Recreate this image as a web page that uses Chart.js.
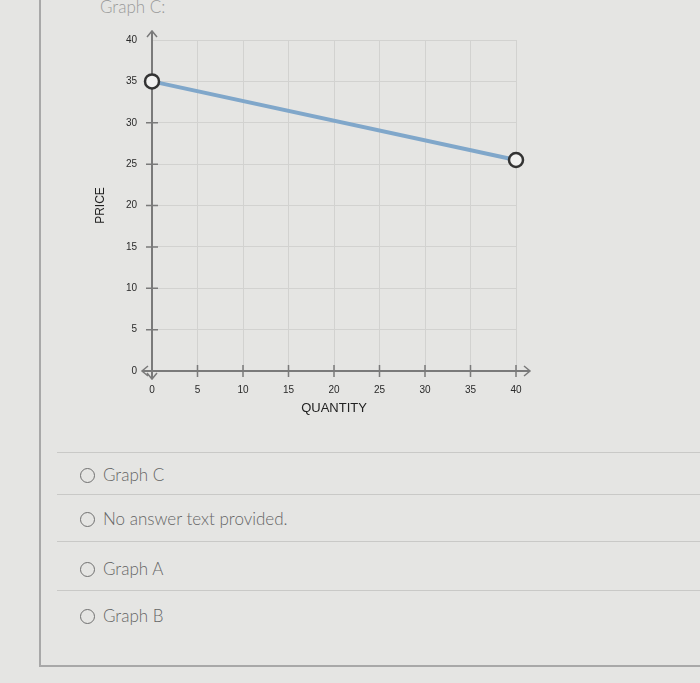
<!DOCTYPE html>
<html>
<head>
<meta charset="utf-8">
<script src="https://cdn.jsdelivr.net/npm/chart.js@4.4.1/dist/chart.umd.min.js"></script>
<style>
  body { margin: 0; background: #e5e5e3; font-family: Lato, sans-serif; }
  #page { position: relative; width: 700px; height: 683px; overflow: hidden; }
  #frame { position: absolute; left: 39px; top: -2px; width: 700px; height: 667px;
           border-left: 2px solid #a8a8a8; border-bottom: 2px solid #a8a8a8; }
  #title { position: absolute; left: 100px; top: -4px; font-size: 17px; color: #9a9a9a; font-weight: 300; }
  #chartBox { position: absolute; left: 0; top: 0; width: 700px; height: 430px; }
  .rule { position: absolute; left: 57px; width: 650px; height: 0; border-top: 1.5px solid #c9c9c7; }
  .opt { position: absolute; left: 80px; font-size: 17px; color: #666; font-weight: 300; line-height: 20px; }
  .opt span.r { display: inline-block; width: 13px; height: 13px; border: 1.8px solid #707070;
                border-radius: 50%; vertical-align: -2px; margin-right: 8px; }
</style>
</head>
<body>
<div id="page">
  <div id="frame"></div>
  <div id="title">Graph C:</div>
  <div id="chartBox"><canvas id="myChart" width="700" height="430"></canvas></div>
  <div class="rule" style="top:452px"></div>
  <div class="rule" style="top:494px"></div>
  <div class="rule" style="top:541px"></div>
  <div class="rule" style="top:590px"></div>
  <div class="opt" style="top:465px"><span class="r"></span>Graph C</div>
  <div class="opt" style="top:509px"><span class="r"></span>No answer text provided.</div>
  <div class="opt" style="top:559px"><span class="r"></span>Graph A</div>
  <div class="opt" style="top:606px"><span class="r"></span>Graph B</div>
</div>
<script>
const quantity = [0, 40];
const price = [35, 25.5];
const axisMin = 0;
const axisMax = 40;
const tickStep = 5;

// axis lines with arrows at both ends, plus small cross ticks
const axesPlugin = {
    id: 'axesArrows',
    beforeDatasetsDraw(chart) {
        const ctx = chart.ctx;
        const x = chart.scales.x, y = chart.scales.y;
        const x0 = x.getPixelForValue(axisMin), x1 = x.getPixelForValue(axisMax);
        const y0 = y.getPixelForValue(axisMin), y1 = y.getPixelForValue(axisMax);
        ctx.save();
        ctx.strokeStyle = '#7a7a7a';
        ctx.lineWidth = 2;
        ctx.beginPath();
        ctx.moveTo(x0 - 10, y0); ctx.lineTo(x1 + 14, y0);
        ctx.moveTo(x0, y0 + 8); ctx.lineTo(x0, y1 - 9);
        ctx.stroke();
        ctx.lineWidth = 1.5;
        ctx.beginPath();
        // right / left arrows
        ctx.moveTo(x1 + 8, y0 - 5); ctx.lineTo(x1 + 14, y0); ctx.lineTo(x1 + 8, y0 + 5);
        ctx.moveTo(x0 - 4, y0 - 5); ctx.lineTo(x0 - 10, y0); ctx.lineTo(x0 - 4, y0 + 5);
        // up / down arrows
        ctx.moveTo(x0 - 5, y1 - 3); ctx.lineTo(x0, y1 - 9); ctx.lineTo(x0 + 5, y1 - 3);
        ctx.moveTo(x0 - 5, y0 + 2); ctx.lineTo(x0, y0 + 8); ctx.lineTo(x0 + 5, y0 + 2);
        ctx.stroke();
        ctx.lineWidth = 1.5;
        ctx.beginPath();
        for (let v = axisMin + tickStep; v <= axisMax; v += tickStep) {
            const px = x.getPixelForValue(v);
            ctx.moveTo(px, y0 - 6); ctx.lineTo(px, y0 + 6);
            if (v < axisMax) {
                const py = y.getPixelForValue(v);
                ctx.moveTo(x0 - 6, py); ctx.lineTo(x0 + 6, py);
            }
        }
        ctx.stroke();
        ctx.restore();
    }
};

const ctx = document.getElementById('myChart');

new Chart(ctx, {
    type: 'scatter',
    data: {
        datasets: [{
            data: quantity.map((q, i) => ({ x: q, y: price[i] })),
            showLine: true,
            clip: false,
            borderColor: '#80a7ca',
            borderWidth: 4,
            pointRadius: 7,
            pointHoverRadius: 7,
            pointBorderWidth: 2.5,
            pointBorderColor: '#333333',
            pointBackgroundColor: '#f1f1f0'
        }]
    },
    options: {
        responsive: false,
        animation: false,
        layout: { padding: { left: 88, right: 184, top: 40, bottom: 0 } },
        plugins: {
            legend: { display: false },
            tooltip: { enabled: false }
        },
        scales: {
            x: {
                type: 'linear',
                min: axisMin,
                max: axisMax,
                ticks: {
                    stepSize: tickStep,
                    padding: 13,
                    color: '#2a2a2a',
                    font: { size: 10, family: "'Liberation Sans', Arial, sans-serif" }
                },
                grid: { color: '#d2d2d0', drawTicks: false },
                border: { display: false },
                title: {
                    display: true,
                    text: 'QUANTITY',
                    color: '#222',
                    padding: { top: 4, bottom: 14 },
                    font: { size: 13, family: "'Liberation Sans', Arial, sans-serif" }
                },
                afterFit(scale) { scale.height = 59; }
            },
            y: {
                min: axisMin,
                max: axisMax,
                ticks: {
                    stepSize: tickStep,
                    padding: 15,
                    color: '#2a2a2a',
                    font: { size: 10, family: "'Liberation Sans', Arial, sans-serif" }
                },
                grid: { color: '#d2d2d0', drawTicks: false },
                border: { display: false },
                title: {
                    display: true,
                    text: 'PRICE',
                    color: '#222',
                    padding: { top: 5, bottom: 4 },
                    font: { size: 12, family: "'Liberation Sans', Arial, sans-serif" }
                },
                afterFit(scale) { scale.width = 64; }
            }
        }
    },
    plugins: [axesPlugin]
});
</script>
</body>
</html>
